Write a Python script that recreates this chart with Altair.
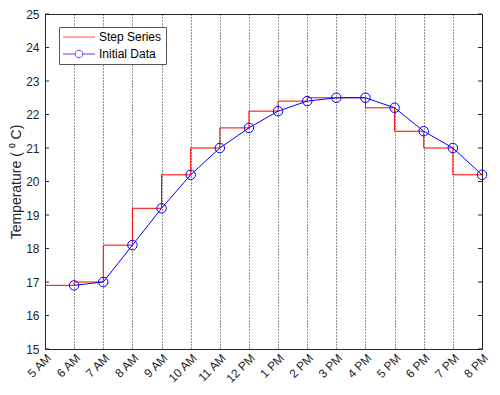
import altair as alt
import pandas as pd

hours = ["5 AM", "6 AM", "7 AM", "8 AM", "9 AM", "10 AM", "11 AM", "12 PM",
         "1 PM", "2 PM", "3 PM", "4 PM", "5 PM", "6 PM", "7 PM", "8 PM"]
data_hours = hours[1:]
data_temps = [16.9, 17.0, 18.1, 19.2, 20.2, 21.0, 21.6, 22.1, 22.4, 22.5,
              22.5, 22.2, 21.5, 21.0, 20.2]
step_hours = hours
step_temps = [16.9, 16.9, 17.0, 18.1, 19.2, 20.2, 21.0, 21.6, 22.1, 22.4,
              22.5, 22.5, 22.2, 21.5, 21.0, 20.2]
y_ticks = [15, 16, 17, 18, 19, 20, 21, 22, 23, 24, 25]
series_names = ["Step Series", "Initial Data"]
series_colors = ["#ff0000", "#0000ff"]
legend_shapes = ["M-3.2,0L3.2,0",
                 "M-3.2,0L-0.75,0M0.75,0L3.2,0M0.75,0A0.75,0.75,0,1,1,-0.75,0A0.75,0.75,0,1,1,0.75,0"]

df_step = pd.DataFrame({"hour": step_hours, "temp": step_temps, "series": series_names[0]})
df_init = pd.DataFrame({"hour": data_hours, "temp": data_temps, "series": series_names[1]})
df_left_ticks = pd.DataFrame({"hour": hours[0], "temp": y_ticks})
df_right_ticks = pd.DataFrame({"hour": hours[-1], "temp": y_ticks})

FONT = "Liberation Sans"
AX = "#262626"
W, H = 437, 335

xscale = alt.Scale(type="point", domain=hours, padding=0)
yscale = alt.Scale(domain=[15, 25], nice=False, zero=False)

x_enc = alt.X("hour:N", scale=xscale, sort=hours, title=None,
              axis=alt.Axis(labelAngle=315, labelAlign="right", labelBaseline="top",
                            labelPadding=3, ticks=False, labelFontSize=12,
                            grid=True, gridDash=[1, 2], gridColor="#222222", gridOpacity=1,
                            gridWidth=1, domainColor=AX, labelColor=AX,
                            labelFont=FONT, labelOverlap=False, labelBound=False))
y_enc = alt.Y("temp:Q", scale=yscale, title="Temperature ( \u2070 C)",
              axis=alt.Axis(values=y_ticks, ticks=False, labelPadding=6, labelFontSize=12,
                            grid=False, domainColor=AX, labelColor=AX,
                            labelFont=FONT, titleFont=FONT, titleFontSize=14,
                            titleFontWeight="normal", titleColor=AX, titlePadding=2))

step = alt.Chart(df_step).mark_line(interpolate="step-before", strokeWidth=1,
                                    color=series_colors[0]).encode(x=x_enc, y=y_enc)
init_line = alt.Chart(df_init).mark_line(strokeWidth=1, color=series_colors[1]).encode(
    x=x_enc, y=y_enc)
init_pts = alt.Chart(df_init).mark_point(shape="circle", filled=False, size=90,
                                         color=series_colors[1], strokeWidth=1,
                                         opacity=1).encode(x=x_enc, y=y_enc)

left_ticks = alt.Chart(df_left_ticks).mark_tick(orient="horizontal", size=4, thickness=1,
                                                xOffset=2, color=AX, opacity=1).encode(
    x=x_enc, y=y_enc)
right_ticks = alt.Chart(df_right_ticks).mark_tick(orient="horizontal", size=4, thickness=1,
                                                  xOffset=-2, color=AX, opacity=1).encode(
    x=x_enc, y=y_enc)

leg = alt.Legend(title=None, orient="none", legendX=14, legendY=13,
                 strokeColor="#555555", fillColor="white", padding=4,
                 symbolSize=100, symbolStrokeWidth=1, symbolOffset=10,
                 symbolFillColor="transparent",
                 labelFont=FONT, labelFontSize=12, labelColor="black",
                 labelOffset=14, rowPadding=5)

legend_layer = alt.Chart(df_init).transform_filter("false").mark_point(
    filled=False, strokeWidth=1).encode(
    x=x_enc, y=y_enc,
    color=alt.Color("series:N", scale=alt.Scale(domain=series_names, range=series_colors),
                    legend=leg),
    shape=alt.Shape("series:N", scale=alt.Scale(domain=series_names, range=legend_shapes),
                    legend=leg))

chart = alt.layer(step, init_line, init_pts, left_ticks, right_ticks, legend_layer).properties(
    width=W, height=H,
    autosize=alt.AutoSizeParams(type="none"),
    padding={"left": 37, "top": 6, "right": 10, "bottom": 38},
    background="white",
).configure_view(stroke=AX)

chart.save("out.html", embed_options={"renderer": "svg", "actions": False})
